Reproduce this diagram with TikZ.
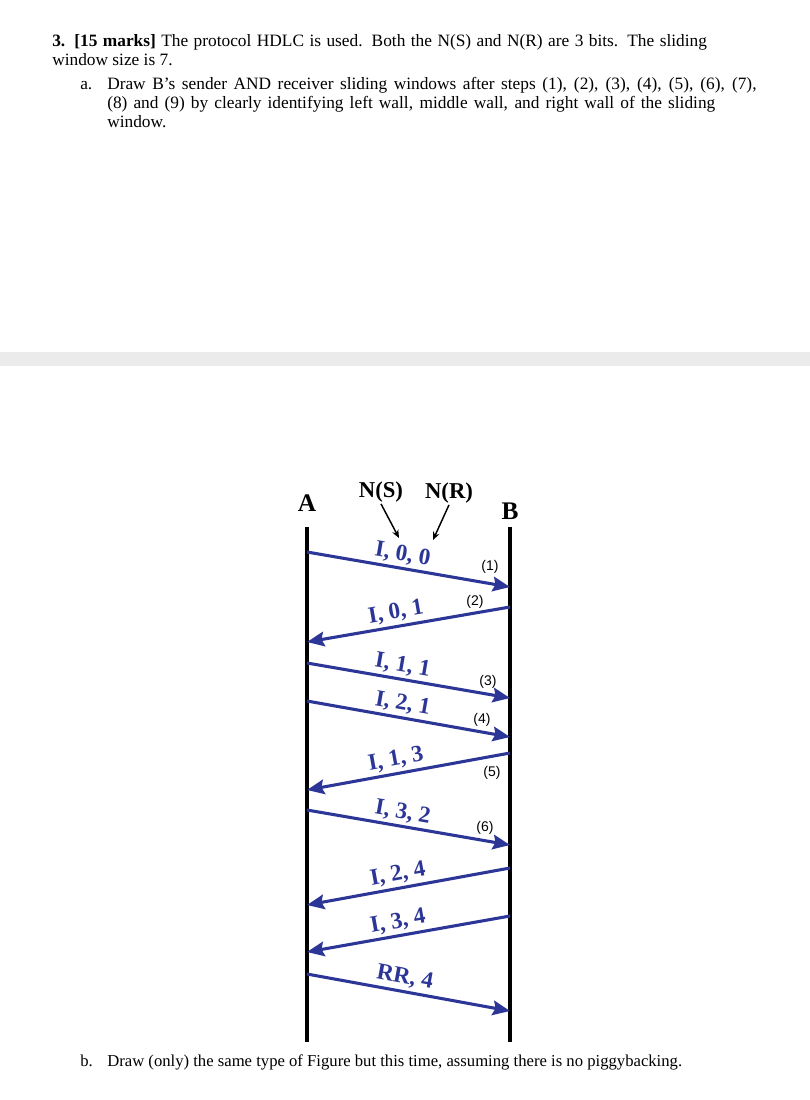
\documentclass[tikz,border=0pt]{standalone}
\usepackage{fontspec}
\setmainfont{Liberation Serif}
\setsansfont{Liberation Sans}
\usetikzlibrary{arrows.meta}
\definecolor{hdlcblue}{RGB}{44,54,150}
\definecolor{bandgray}{RGB}{235,235,235}

\begin{document}
\begin{tikzpicture}[
	x=0.75pt,
	y=-0.75pt,
	wall/.style={draw=black, line width=3pt},
	frame/.style={draw=hdlcblue, line width=2.3pt, -{Stealth[length=13pt,width=11pt,inset=2pt]}},
	framelabel/.style={text=hdlcblue, font=\bfseries\fontsize{17.5}{18}\selectfont, sloped, above, inner sep=2pt},
	stepno/.style={font=\sffamily\fontsize{10.5}{12}\selectfont, inner sep=1pt},
	station/.style={font=\bfseries\fontsize{19}{19}\selectfont, inner sep=1pt},
	field/.style={font=\bfseries\fontsize{17}{17}\selectfont, inner sep=1pt},
	pointer/.style={draw=black, line width=1.1pt, -{Stealth[length=6pt,width=5pt]}},
	question/.style={anchor=base west, inner sep=0pt, font=\fontsize{13}{15}\selectfont},
	partb/.style={anchor=base west, inner sep=0pt, font=\fontsize{12.5}{15}\selectfont}
]
	\useasboundingbox (0,0) rectangle (810,1100);
	\fill[bandgray] (0,352) rectangle (810,366);

	% question text
	\node[question] (q1) at (52,46) {\makebox[491pt][s]{\textbf{3. [15 marks]} The protocol HDLC is used. Both the N(S) and N(R) are 3 bits. The sliding}};
	\node[question] (q2) at (52,65) {window size is 7.};
	\node[question] (qa) at (80,89) {a.};
	\node[question] (qa1) at (107,89) {\makebox[487pt][s]{Draw B’s sender AND receiver sliding windows after steps (1), (2), (3), (4), (5), (6), (7),}};
	\node[question] (qa2) at (107,108) {\makebox[456pt][s]{(8) and (9) by clearly identifying left wall, middle wall, and right wall of the sliding}};
	\node[question] (qa3) at (107,127) {window.};
	\node[partb] (qb) at (80,1066) {b.};
	\node[partb] (qb1) at (107,1066) {Draw (only) the same type of Figure but this time, assuming there is no piggybacking.};

	% stations
	\node[station] (A) at (307,503) {A};
	\node[station] (B) at (510,511) {B};
	\coordinate (Atop) at (307,527);
	\coordinate (Abot) at (307,1042);
	\coordinate (Btop) at (510,527);
	\coordinate (Bbot) at (510,1042);
	\draw[wall] (Atop) -- (Abot);
	\draw[wall] (Btop) -- (Bbot);

	% field names
	\node[field] (ns) at (381,492) {N(S)};
	\node[field] (nr) at (449,493) {N(R)};
	\coordinate (nsTip) at (399,538);
	\coordinate (nrTip) at (433,540);
	\draw[pointer] (ns.south) -- (nsTip);
	\draw[pointer] (nr.south) -- (nrTip);

	% frames (pos of the label along each frame)
	\foreach \xs/\ys/\xe/\ye/\p/\lab [count=\i] in {
		307/552/510/587/0.46/{I, 0, 0},
		510/607/307/642/0.55/{I, 0, 1},
		307/663/510/698/0.46/{I, 1, 1},
		307/701/510/737/0.46/{I, 2, 1},
		510/753/307/790/0.55/{I, 1, 3},
		307/810/510/845/0.46/{I, 3, 2},
		510/868/307/905/0.54/{I, 2, 4},
		510/916/307/952/0.54/{I, 3, 4},
		307/974/510/1011/0.47/{RR, 4}} {
		\coordinate (f\i s) at (\xs,\ys);
		\coordinate (f\i e) at (\xe,\ye);
		\draw[frame] (f\i s) -- node[framelabel, pos=\p] (fl\i) {\lab} (f\i e);
	}

	% step numbers
	\foreach \x/\y [count=\i] in {490/567, 475/602, 488/682, 482/720, 492/773, 485/828} {
		\node[stepno] (st\i) at (\x,\y) {(\i)};
	}
\end{tikzpicture}
\end{document}
